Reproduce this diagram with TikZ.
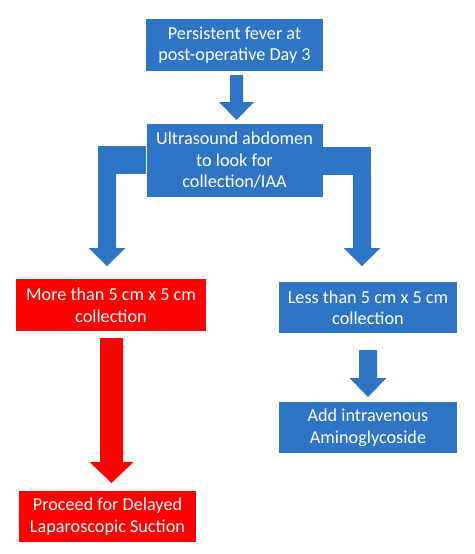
\documentclass[tikz,border=0pt]{standalone}
\usepackage{fontspec}
\setmainfont{Carlito}
\definecolor{boxblue}{RGB}{46,117,198}
\definecolor{boxred}{RGB}{255,0,0}
\newcommand{\barrow}[7]{\fill[#1] (#2-#5,#3) -- (#2+#5,#3) -- (#2+#5,#4-#7) -- (#2+#6,#4-#7) -- (#2,#4) -- (#2-#6,#4-#7) -- (#2-#5,#4-#7) -- cycle;}
\begin{document}
\begin{tikzpicture}[x=1pt,y=-1pt,
  box/.style={rectangle, inner sep=0pt, text=white, align=center,
    font=\fontsize{18.2}{21.5}\selectfont},
  bluebox/.style={box, fill=boxblue},
  redbox/.style={box, fill=boxred}]
\useasboundingbox[fill=white] (0,0) rectangle (474,554);
\node[bluebox, minimum width=177pt, minimum height=52pt] (top) at (234.5,45) {Persistent fever at\\post-operative Day 3};
\node[bluebox, minimum width=176pt, minimum height=73pt] (us) at (234.5,160.5) {Ultrasound abdomen\\to look for\\collection/IAA};
\node[redbox, minimum width=190pt, minimum height=52pt] (more) at (111,305) {More than 5 cm x 5 cm\\collection};
\node[bluebox, minimum width=178pt, minimum height=51pt] (less) at (368,307.5) {Less than 5 cm x 5 cm\\collection};
\node[bluebox, minimum width=178pt, minimum height=51pt] (add) at (368,427.5) {Add intravenous\\Aminoglycoside};
\node[redbox, minimum width=177pt, minimum height=51pt] (proc) at (107.5,516.5) {Proceed for Delayed\\Laparoscopic Suction};
% top -> us
\barrow{boxblue}{236.5}{75}{120}{6.5}{17.5}{18}
% us -> left branch
\fill[boxblue] (us.west |- 0,146) rectangle (98,174);
\barrow{boxblue}{107}{174}{266}{9}{18.5}{18}
% us -> right branch
\fill[boxblue] (us.east |- 0,147) rectangle (371,175);
\barrow{boxblue}{362}{175}{266}{9}{18.5}{18}
% more -> proc
\barrow{boxred}{111.5}{338}{483}{11.5}{22}{21}
% less -> add
\barrow{boxblue}{368}{350}{397}{9}{18.5}{19}
\end{tikzpicture}
\end{document}
